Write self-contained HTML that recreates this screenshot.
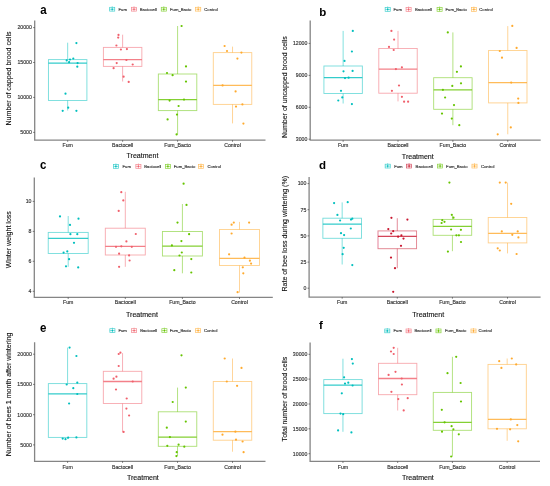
<!DOCTYPE html>
<html><head><meta charset="utf-8"><style>
html,body{margin:0;padding:0;background:#fff;}
svg{display:block;font-family:"Liberation Sans", sans-serif;}
</style></head><body>
<svg width="550" height="486" viewBox="0 0 550 486">
<defs><filter id="bl" x="0" y="0" width="1" height="1"><feGaussianBlur stdDeviation="0.45"/></filter></defs>
<rect width="550" height="486" fill="#fff"/>
<g filter="url(#bl)">
<g><g stroke="#00BFBE" fill="none" stroke-width="0.9" stroke-opacity="0.55"><line x1="67.67" y1="59.6" x2="67.67" y2="42.7"/><line x1="67.67" y1="100.5" x2="67.67" y2="110.5"/><rect x="48.44" y="59.6" width="38.47" height="40.9"/><line x1="48.44" y1="63.1" x2="86.9" y2="63.1" stroke-width="1.3" stroke-opacity="0.8"/></g><g stroke="#F0606C" fill="none" stroke-width="0.9" stroke-opacity="0.55"><line x1="122.62" y1="47.4" x2="122.62" y2="34.7"/><line x1="122.62" y1="66.4" x2="122.62" y2="81.5"/><rect x="103.39" y="47.4" width="38.47" height="19"/><line x1="103.39" y1="59.6" x2="141.86" y2="59.6" stroke-width="1.3" stroke-opacity="0.8"/></g><g stroke="#66C400" fill="none" stroke-width="0.9" stroke-opacity="0.55"><line x1="177.58" y1="74" x2="177.58" y2="26"/><line x1="177.58" y1="110.6" x2="177.58" y2="134.5"/><rect x="158.34" y="74" width="38.47" height="36.6"/><line x1="158.34" y1="99.6" x2="196.81" y2="99.6" stroke-width="1.3" stroke-opacity="0.8"/></g><g stroke="#FFAA2E" fill="none" stroke-width="0.9" stroke-opacity="0.55"><line x1="232.53" y1="52.6" x2="232.53" y2="46.6"/><line x1="232.53" y1="104.4" x2="232.53" y2="123.4"/><rect x="213.3" y="52.6" width="38.47" height="51.8"/><line x1="213.3" y1="85.4" x2="251.76" y2="85.4" stroke-width="1.3" stroke-opacity="0.8"/></g><g fill="#00BFBE"><circle cx="76.4" cy="43.1" r="1.1"/><circle cx="73.3" cy="58.5" r="1.1"/><circle cx="70" cy="59.5" r="1.1"/><circle cx="69.1" cy="62.2" r="1.1"/><circle cx="66.7" cy="60.4" r="1.1"/><circle cx="77.6" cy="63.1" r="1.1"/><circle cx="77.3" cy="66.7" r="1.1"/><circle cx="65.5" cy="93.7" r="1.1"/><circle cx="68.2" cy="107.7" r="1.1"/><circle cx="62.7" cy="110.8" r="1.1"/><circle cx="76.4" cy="110.8" r="1.1"/></g><g fill="#F0606C"><circle cx="118.5" cy="34.9" r="1.1"/><circle cx="118.2" cy="37.6" r="1.1"/><circle cx="116.4" cy="45.5" r="1.1"/><circle cx="120.9" cy="49.5" r="1.1"/><circle cx="126.9" cy="49.1" r="1.1"/><circle cx="126.4" cy="60" r="1.1"/><circle cx="116.7" cy="63.1" r="1.1"/><circle cx="132.7" cy="64.5" r="1.1"/><circle cx="113.6" cy="68.2" r="1.1"/><circle cx="123.6" cy="76.7" r="1.1"/><circle cx="128.7" cy="81.9" r="1.1"/></g><g fill="#66C400"><circle cx="181.6" cy="26" r="1.1"/><circle cx="186" cy="66.4" r="1.1"/><circle cx="167" cy="73" r="1.1"/><circle cx="172.6" cy="75.2" r="1.1"/><circle cx="186" cy="81.6" r="1.1"/><circle cx="169.6" cy="100.6" r="1.1"/><circle cx="184" cy="99.6" r="1.1"/><circle cx="178.6" cy="106" r="1.1"/><circle cx="177" cy="114.6" r="1.1"/><circle cx="167.6" cy="119.4" r="1.1"/><circle cx="176.6" cy="134.4" r="1.1"/></g><g fill="#FFAA2E"><circle cx="224.6" cy="46" r="1.1"/><circle cx="227" cy="51" r="1.1"/><circle cx="241.4" cy="52.6" r="1.1"/><circle cx="237.4" cy="58.6" r="1.1"/><circle cx="222.6" cy="85.4" r="1.1"/><circle cx="235.6" cy="91.4" r="1.1"/><circle cx="236" cy="106.6" r="1.1"/><circle cx="242.4" cy="104.4" r="1.1"/><circle cx="243.4" cy="123.6" r="1.1"/></g><path d="M34.7 20.4V140.2H265.5" fill="none" stroke="#858585" stroke-width="1.3"/><path d="M33.1 27.6H34.7M33.1 62.5H34.7M33.1 97.4H34.7M33.1 132.4H34.7M67.67 140.2V141.8M122.62 140.2V141.8M177.58 140.2V141.8M232.53 140.2V141.8" stroke="#333" stroke-width="0.6"/><g font-size="5.2" fill="#333" stroke="#333" stroke-width="0.15" text-anchor="end"><text x="31.9" y="29.4">20000</text><text x="31.9" y="64.3">15000</text><text x="31.9" y="99.2">10000</text><text x="31.9" y="134.2">5000</text></g><g font-size="5.2" fill="#333" stroke="#333" stroke-width="0.15" text-anchor="middle"><text x="67.67" y="147.2">Fum</text><text x="122.62" y="147.2">Bactocell</text><text x="177.58" y="147.2">Fum_Bacto</text><text x="232.53" y="147.2">Control</text></g><text font-size="7.05" fill="#111" stroke="#111" stroke-width="0.12" text-anchor="middle" transform="translate(11.1 78.5) rotate(-90)">Number of capped brood cells</text><text font-size="7.05" fill="#111" stroke="#111" stroke-width="0.12" text-anchor="middle" x="142.5" y="158.2">Treatment</text><text font-size="11.5" font-weight="bold" fill="#000" transform="translate(40.3 13.8) scale(1 1.13)">a</text><g stroke="#00BFBE" fill="none" stroke-width="0.7" opacity="0.75"><rect x="109.65" y="7.3" width="5.1" height="3.8"/><line x1="112.2" y1="6.3" x2="112.2" y2="11.3"/><line x1="109.65" y1="9.2" x2="114.75" y2="9.2"/></g><circle cx="112.2" cy="9.2" r="0.8" fill="#00BFBE"/><text font-size="4.2" fill="#333" stroke="#333" stroke-width="0.15" x="118.5" y="10.7">Fum</text><g stroke="#F0606C" fill="none" stroke-width="0.7" opacity="0.75"><rect x="131.45" y="7.3" width="5.1" height="3.8"/><line x1="134" y1="6.3" x2="134" y2="11.3"/><line x1="131.45" y1="9.2" x2="136.55" y2="9.2"/></g><circle cx="134" cy="9.2" r="0.8" fill="#F0606C"/><text font-size="4.2" fill="#333" stroke="#333" stroke-width="0.15" x="139.8" y="10.7">Bactocell</text><g stroke="#66C400" fill="none" stroke-width="0.7" opacity="0.75"><rect x="161.25" y="7.3" width="5.1" height="3.8"/><line x1="163.8" y1="6.3" x2="163.8" y2="11.3"/><line x1="161.25" y1="9.2" x2="166.35" y2="9.2"/></g><circle cx="163.8" cy="9.2" r="0.8" fill="#66C400"/><text font-size="4.2" fill="#333" stroke="#333" stroke-width="0.15" x="170" y="10.7">Fum_Bacto</text><g stroke="#FFAA2E" fill="none" stroke-width="0.7" opacity="0.75"><rect x="195.65" y="7.3" width="5.1" height="3.8"/><line x1="198.2" y1="6.3" x2="198.2" y2="11.3"/><line x1="195.65" y1="9.2" x2="200.75" y2="9.2"/></g><circle cx="198.2" cy="9.2" r="0.8" fill="#FFAA2E"/><text font-size="4.2" fill="#333" stroke="#333" stroke-width="0.15" x="204.3" y="10.7">Control</text></g>
<g><g stroke="#00BFBE" fill="none" stroke-width="0.9" stroke-opacity="0.55"><line x1="343.13" y1="66" x2="343.13" y2="30.9"/><line x1="343.13" y1="93.5" x2="343.13" y2="103.5"/><rect x="323.92" y="66" width="38.42" height="27.5"/><line x1="323.92" y1="77.7" x2="362.34" y2="77.7" stroke-width="1.3" stroke-opacity="0.8"/></g><g stroke="#F0606C" fill="none" stroke-width="0.9" stroke-opacity="0.55"><line x1="398.01" y1="48.5" x2="398.01" y2="30.9"/><line x1="398.01" y1="93.2" x2="398.01" y2="101.4"/><rect x="378.8" y="48.5" width="38.42" height="44.7"/><line x1="378.8" y1="69.1" x2="417.22" y2="69.1" stroke-width="1.3" stroke-opacity="0.8"/></g><g stroke="#66C400" fill="none" stroke-width="0.9" stroke-opacity="0.55"><line x1="452.89" y1="77.7" x2="452.89" y2="32.4"/><line x1="452.89" y1="109.3" x2="452.89" y2="125.2"/><rect x="433.68" y="77.7" width="38.42" height="31.6"/><line x1="433.68" y1="89.8" x2="472.1" y2="89.8" stroke-width="1.3" stroke-opacity="0.8"/></g><g stroke="#FFAA2E" fill="none" stroke-width="0.9" stroke-opacity="0.55"><line x1="507.77" y1="50.5" x2="507.77" y2="26.1"/><line x1="507.77" y1="102.9" x2="507.77" y2="134.3"/><rect x="488.56" y="50.5" width="38.42" height="52.4"/><line x1="488.56" y1="82.6" x2="526.98" y2="82.6" stroke-width="1.3" stroke-opacity="0.8"/></g><g fill="#00BFBE"><circle cx="352.8" cy="30.9" r="1.1"/><circle cx="351.9" cy="51.5" r="1.1"/><circle cx="344.5" cy="60.9" r="1.1"/><circle cx="343.5" cy="71.3" r="1.1"/><circle cx="352.6" cy="70.9" r="1.1"/><circle cx="345" cy="78.1" r="1.1"/><circle cx="348.6" cy="77.7" r="1.1"/><circle cx="341" cy="90.8" r="1.1"/><circle cx="342.3" cy="97.4" r="1.1"/><circle cx="338.3" cy="100.5" r="1.1"/><circle cx="351.9" cy="104.1" r="1.1"/></g><g fill="#F0606C"><circle cx="391.4" cy="30.9" r="1.1"/><circle cx="394.1" cy="39.6" r="1.1"/><circle cx="389" cy="46.9" r="1.1"/><circle cx="393.7" cy="50" r="1.1"/><circle cx="401.9" cy="67.3" r="1.1"/><circle cx="395.9" cy="69.1" r="1.1"/><circle cx="399" cy="85.5" r="1.1"/><circle cx="391.9" cy="90.8" r="1.1"/><circle cx="401.9" cy="96.8" r="1.1"/><circle cx="404.1" cy="101.7" r="1.1"/><circle cx="408.1" cy="101.7" r="1.1"/></g><g fill="#66C400"><circle cx="447.8" cy="32.4" r="1.1"/><circle cx="460.9" cy="66.4" r="1.1"/><circle cx="456.9" cy="71.8" r="1.1"/><circle cx="461" cy="83.3" r="1.1"/><circle cx="452.3" cy="85.9" r="1.1"/><circle cx="442.9" cy="89.8" r="1.1"/><circle cx="445.1" cy="97.5" r="1.1"/><circle cx="454" cy="105.1" r="1.1"/><circle cx="442" cy="113.6" r="1.1"/><circle cx="451.8" cy="118.6" r="1.1"/><circle cx="459.3" cy="125.2" r="1.1"/></g><g fill="#FFAA2E"><circle cx="512.3" cy="25.9" r="1.1"/><circle cx="516.6" cy="47.9" r="1.1"/><circle cx="499.8" cy="51" r="1.1"/><circle cx="502" cy="57.7" r="1.1"/><circle cx="511.2" cy="82.6" r="1.1"/><circle cx="518.2" cy="98.6" r="1.1"/><circle cx="518.4" cy="102.9" r="1.1"/><circle cx="510.8" cy="127.4" r="1.1"/><circle cx="497.7" cy="134.3" r="1.1"/></g><path d="M310.2 20.5V140.2H540.7" fill="none" stroke="#858585" stroke-width="1.3"/><path d="M308.6 43.4H310.2M308.6 75.4H310.2M308.6 107.3H310.2M308.6 139.2H310.2M343.13 140.2V141.8M398.01 140.2V141.8M452.89 140.2V141.8M507.77 140.2V141.8" stroke="#333" stroke-width="0.6"/><g font-size="5.2" fill="#333" stroke="#333" stroke-width="0.15" text-anchor="end"><text x="307.4" y="45.2">12000</text><text x="307.4" y="77.2">9000</text><text x="307.4" y="109.1">6000</text><text x="307.4" y="141">3000</text></g><g font-size="5.2" fill="#333" stroke="#333" stroke-width="0.15" text-anchor="middle"><text x="343.13" y="147.2">Fum</text><text x="398.01" y="147.2">Bactocell</text><text x="452.89" y="147.2">Fum_Bacto</text><text x="507.77" y="147.2">Control</text></g><text font-size="7.05" fill="#111" stroke="#111" stroke-width="0.12" text-anchor="middle" transform="translate(286.5 87.2) rotate(-90)">Number of uncapped brood cells</text><text font-size="7.05" fill="#111" stroke="#111" stroke-width="0.12" text-anchor="middle" x="417.8" y="159.2">Treatment</text><text font-size="11.5" font-weight="bold" fill="#000" x="319.2" y="15.7">b</text><g stroke="#00BFBE" fill="none" stroke-width="0.7" opacity="0.75"><rect x="385.15" y="7.5" width="5.1" height="3.8"/><line x1="387.7" y1="6.5" x2="387.7" y2="11.5"/><line x1="385.15" y1="9.4" x2="390.25" y2="9.4"/></g><circle cx="387.7" cy="9.4" r="0.8" fill="#00BFBE"/><text font-size="4.2" fill="#333" stroke="#333" stroke-width="0.15" x="393.5" y="10.9">Fum</text><g stroke="#F0606C" fill="none" stroke-width="0.7" opacity="0.75"><rect x="406.05" y="7.5" width="5.1" height="3.8"/><line x1="408.6" y1="6.5" x2="408.6" y2="11.5"/><line x1="406.05" y1="9.4" x2="411.15" y2="9.4"/></g><circle cx="408.6" cy="9.4" r="0.8" fill="#F0606C"/><text font-size="4.2" fill="#333" stroke="#333" stroke-width="0.15" x="414.9" y="10.9">Bactocell</text><g stroke="#66C400" fill="none" stroke-width="0.7" opacity="0.75"><rect x="437.05" y="7.5" width="5.1" height="3.8"/><line x1="439.6" y1="6.5" x2="439.6" y2="11.5"/><line x1="437.05" y1="9.4" x2="442.15" y2="9.4"/></g><circle cx="439.6" cy="9.4" r="0.8" fill="#66C400"/><text font-size="4.2" fill="#333" stroke="#333" stroke-width="0.15" x="445.5" y="10.9">Fum_Bacto</text><g stroke="#FFAA2E" fill="none" stroke-width="0.7" opacity="0.75"><rect x="471.35" y="7.5" width="5.1" height="3.8"/><line x1="473.9" y1="6.5" x2="473.9" y2="11.5"/><line x1="471.35" y1="9.4" x2="476.45" y2="9.4"/></g><circle cx="473.9" cy="9.4" r="0.8" fill="#FFAA2E"/><text font-size="4.2" fill="#333" stroke="#333" stroke-width="0.15" x="479.3" y="10.9">Control</text></g>
<g><g stroke="#00BFBE" fill="none" stroke-width="0.9" stroke-opacity="0.55"><line x1="68.2" y1="232.4" x2="68.2" y2="216"/><line x1="68.2" y1="253.5" x2="68.2" y2="266.8"/><rect x="48.22" y="232.4" width="39.97" height="21.1"/><line x1="48.22" y1="238.4" x2="88.19" y2="238.4" stroke-width="1.3" stroke-opacity="0.8"/></g><g stroke="#F0606C" fill="none" stroke-width="0.9" stroke-opacity="0.55"><line x1="125.3" y1="228.2" x2="125.3" y2="191.8"/><line x1="125.3" y1="255" x2="125.3" y2="266.8"/><rect x="105.31" y="228.2" width="39.97" height="26.8"/><line x1="105.31" y1="246.3" x2="145.28" y2="246.3" stroke-width="1.3" stroke-opacity="0.8"/></g><g stroke="#66C400" fill="none" stroke-width="0.9" stroke-opacity="0.55"><line x1="182.4" y1="231.5" x2="182.4" y2="204"/><line x1="182.4" y1="256" x2="182.4" y2="273.3"/><rect x="162.42" y="231.5" width="39.97" height="24.5"/><line x1="162.42" y1="246.1" x2="202.38" y2="246.1" stroke-width="1.3" stroke-opacity="0.8"/></g><g stroke="#FFAA2E" fill="none" stroke-width="0.9" stroke-opacity="0.55"><line x1="239.5" y1="229.5" x2="239.5" y2="221.9"/><line x1="239.5" y1="265.5" x2="239.5" y2="292.6"/><rect x="219.51" y="229.5" width="39.97" height="36"/><line x1="219.51" y1="258.4" x2="259.49" y2="258.4" stroke-width="1.3" stroke-opacity="0.8"/></g><g fill="#00BFBE"><circle cx="60" cy="216.4" r="1.1"/><circle cx="78.5" cy="218.7" r="1.1"/><circle cx="70" cy="224.9" r="1.1"/><circle cx="70.4" cy="234.2" r="1.1"/><circle cx="77.3" cy="234.2" r="1.1"/><circle cx="74" cy="242.8" r="1.1"/><circle cx="63.6" cy="252.6" r="1.1"/><circle cx="67.3" cy="251.4" r="1.1"/><circle cx="69.1" cy="259.2" r="1.1"/><circle cx="66" cy="266.3" r="1.1"/><circle cx="78.2" cy="267.4" r="1.1"/></g><g fill="#F0606C"><circle cx="121.3" cy="192.2" r="1.1"/><circle cx="123.3" cy="200.4" r="1.1"/><circle cx="118.7" cy="210.9" r="1.1"/><circle cx="135.8" cy="234" r="1.1"/><circle cx="126.4" cy="241.4" r="1.1"/><circle cx="116" cy="246.8" r="1.1"/><circle cx="121.3" cy="246.3" r="1.1"/><circle cx="131.8" cy="246.8" r="1.1"/><circle cx="119.1" cy="253.7" r="1.1"/><circle cx="129.1" cy="255.4" r="1.1"/><circle cx="129.6" cy="260.5" r="1.1"/><circle cx="119.1" cy="266.8" r="1.1"/></g><g fill="#66C400"><circle cx="183.6" cy="183.7" r="1.1"/><circle cx="186.5" cy="204.9" r="1.1"/><circle cx="177.5" cy="222.6" r="1.1"/><circle cx="189.1" cy="234.2" r="1.1"/><circle cx="181.4" cy="241.1" r="1.1"/><circle cx="171.9" cy="245.4" r="1.1"/><circle cx="181.8" cy="252.5" r="1.1"/><circle cx="179.5" cy="255.5" r="1.1"/><circle cx="191.3" cy="259.1" r="1.1"/><circle cx="174.3" cy="270.2" r="1.1"/><circle cx="191.3" cy="272.5" r="1.1"/></g><g fill="#FFAA2E"><circle cx="233.8" cy="222.6" r="1.1"/><circle cx="231.6" cy="224.7" r="1.1"/><circle cx="249.1" cy="222.6" r="1.1"/><circle cx="231.6" cy="233.5" r="1.1"/><circle cx="229.1" cy="254.3" r="1.1"/><circle cx="244.5" cy="257.7" r="1.1"/><circle cx="249.9" cy="260.7" r="1.1"/><circle cx="251.1" cy="263.6" r="1.1"/><circle cx="242.8" cy="267.3" r="1.1"/><circle cx="243.3" cy="273.3" r="1.1"/><circle cx="237.6" cy="292.2" r="1.1"/></g><path d="M34.3 177.6V297.4H272.8" fill="none" stroke="#858585" stroke-width="1.3"/><path d="M32.7 201.4H34.3M32.7 231.4H34.3M32.7 261.3H34.3M32.7 291.3H34.3M68.2 297.4V299M125.3 297.4V299M182.4 297.4V299M239.5 297.4V299" stroke="#333" stroke-width="0.6"/><g font-size="5.2" fill="#333" stroke="#333" stroke-width="0.15" text-anchor="end"><text x="31.5" y="203.2">10</text><text x="31.5" y="233.2">8</text><text x="31.5" y="263.1">6</text><text x="31.5" y="293.1">4</text></g><g font-size="5.2" fill="#333" stroke="#333" stroke-width="0.15" text-anchor="middle"><text x="68.2" y="304.3">Fum</text><text x="125.3" y="304.3">Bactocell</text><text x="182.4" y="304.3">Fum_Bacto</text><text x="239.5" y="304.3">Control</text></g><text font-size="7.05" fill="#111" stroke="#111" stroke-width="0.12" text-anchor="middle" transform="translate(11.3 239.7) rotate(-90)">Winter weight loss</text><text font-size="7.05" fill="#111" stroke="#111" stroke-width="0.12" text-anchor="middle" x="142" y="316.8">Treatment</text><text font-size="11.5" font-weight="bold" fill="#000" transform="translate(40 168.8) scale(1 1.13)">c</text><g stroke="#00BFBE" fill="none" stroke-width="0.7" opacity="0.75"><rect x="113.35" y="164.5" width="5.1" height="3.8"/><line x1="115.9" y1="163.5" x2="115.9" y2="168.5"/><line x1="113.35" y1="166.4" x2="118.45" y2="166.4"/></g><circle cx="115.9" cy="166.4" r="0.8" fill="#00BFBE"/><text font-size="4.2" fill="#333" stroke="#333" stroke-width="0.15" x="122.5" y="167.9">Fum</text><g stroke="#F0606C" fill="none" stroke-width="0.7" opacity="0.75"><rect x="135.85" y="164.5" width="5.1" height="3.8"/><line x1="138.4" y1="163.5" x2="138.4" y2="168.5"/><line x1="135.85" y1="166.4" x2="140.95" y2="166.4"/></g><circle cx="138.4" cy="166.4" r="0.8" fill="#F0606C"/><text font-size="4.2" fill="#333" stroke="#333" stroke-width="0.15" x="144.3" y="167.9">Bactocell</text><g stroke="#66C400" fill="none" stroke-width="0.7" opacity="0.75"><rect x="165.35" y="164.5" width="5.1" height="3.8"/><line x1="167.9" y1="163.5" x2="167.9" y2="168.5"/><line x1="165.35" y1="166.4" x2="170.45" y2="166.4"/></g><circle cx="167.9" cy="166.4" r="0.8" fill="#66C400"/><text font-size="4.2" fill="#333" stroke="#333" stroke-width="0.15" x="173.8" y="167.9">Fum_Bacto</text><g stroke="#FFAA2E" fill="none" stroke-width="0.7" opacity="0.75"><rect x="198.45" y="164.5" width="5.1" height="3.8"/><line x1="201" y1="163.5" x2="201" y2="168.5"/><line x1="198.45" y1="166.4" x2="203.55" y2="166.4"/></g><circle cx="201" cy="166.4" r="0.8" fill="#FFAA2E"/><text font-size="4.2" fill="#333" stroke="#333" stroke-width="0.15" x="207.5" y="167.9">Control</text></g>
<g><g stroke="#00BFBE" fill="none" stroke-width="0.9" stroke-opacity="0.55"><line x1="342.17" y1="218.2" x2="342.17" y2="202.4"/><line x1="342.17" y1="238.3" x2="342.17" y2="264.5"/><rect x="322.88" y="218.2" width="38.58" height="20.1"/><line x1="322.88" y1="224.2" x2="361.46" y2="224.2" stroke-width="1.3" stroke-opacity="0.8"/></g><g stroke="#C8182E" fill="none" stroke-width="0.9" stroke-opacity="0.55"><line x1="397.29" y1="230.9" x2="397.29" y2="218.2"/><line x1="397.29" y1="248.7" x2="397.29" y2="268.2"/><rect x="378" y="230.9" width="38.58" height="17.8"/><line x1="378" y1="236.4" x2="416.58" y2="236.4" stroke-width="1.3" stroke-opacity="0.8"/></g><g stroke="#66C400" fill="none" stroke-width="0.9" stroke-opacity="0.55"><line x1="452.41" y1="219.4" x2="452.41" y2="215.5"/><line x1="452.41" y1="235.3" x2="452.41" y2="251.2"/><rect x="433.12" y="219.4" width="38.58" height="15.9"/><line x1="433.12" y1="226.4" x2="471.7" y2="226.4" stroke-width="1.3" stroke-opacity="0.8"/></g><g stroke="#FFAA2E" fill="none" stroke-width="0.9" stroke-opacity="0.55"><line x1="507.53" y1="217.5" x2="507.53" y2="182.6"/><line x1="507.53" y1="242.9" x2="507.53" y2="253.4"/><rect x="488.24" y="217.5" width="38.58" height="25.4"/><line x1="488.24" y1="233.3" x2="526.82" y2="233.3" stroke-width="1.3" stroke-opacity="0.8"/></g><g fill="#00BFBE"><circle cx="334.1" cy="203.1" r="1.1"/><circle cx="347.7" cy="202.2" r="1.1"/><circle cx="337.4" cy="214.9" r="1.1"/><circle cx="340.1" cy="220.5" r="1.1"/><circle cx="351" cy="219.6" r="1.1"/><circle cx="352.3" cy="218.7" r="1.1"/><circle cx="350.8" cy="228.5" r="1.1"/><circle cx="341" cy="233.2" r="1.1"/><circle cx="344.1" cy="235.1" r="1.1"/><circle cx="343.7" cy="247.8" r="1.1"/><circle cx="342.6" cy="254.2" r="1.1"/><circle cx="352.3" cy="265.1" r="1.1"/></g><g fill="#C8182E"><circle cx="391.4" cy="217.8" r="1.1"/><circle cx="407.4" cy="219.6" r="1.1"/><circle cx="388.3" cy="229.1" r="1.1"/><circle cx="393.2" cy="231.2" r="1.1"/><circle cx="391.2" cy="233.5" r="1.1"/><circle cx="401.4" cy="235.3" r="1.1"/><circle cx="398.1" cy="236.7" r="1.1"/><circle cx="403.5" cy="238.6" r="1.1"/><circle cx="401" cy="245.8" r="1.1"/><circle cx="391" cy="257.6" r="1.1"/><circle cx="395" cy="268.2" r="1.1"/><circle cx="393.2" cy="291.8" r="1.1"/></g><g fill="#66C400"><circle cx="449.4" cy="182.6" r="1.1"/><circle cx="451.8" cy="214.8" r="1.1"/><circle cx="453.5" cy="217.7" r="1.1"/><circle cx="442.3" cy="220.2" r="1.1"/><circle cx="444.5" cy="221.8" r="1.1"/><circle cx="441.6" cy="223" r="1.1"/><circle cx="451.1" cy="229.5" r="1.1"/><circle cx="460.9" cy="229.8" r="1.1"/><circle cx="456.4" cy="235.3" r="1.1"/><circle cx="458.9" cy="235.3" r="1.1"/><circle cx="461" cy="242" r="1.1"/><circle cx="447.9" cy="251.6" r="1.1"/></g><g fill="#FFAA2E"><circle cx="499.8" cy="182.6" r="1.1"/><circle cx="505.7" cy="182.6" r="1.1"/><circle cx="511.2" cy="203.8" r="1.1"/><circle cx="501.8" cy="231.4" r="1.1"/><circle cx="517.7" cy="231.4" r="1.1"/><circle cx="512.3" cy="234.8" r="1.1"/><circle cx="518.4" cy="237.4" r="1.1"/><circle cx="497.7" cy="248.3" r="1.1"/><circle cx="499.8" cy="250.5" r="1.1"/><circle cx="516.6" cy="254" r="1.1"/></g><path d="M309.1 177.1V297.1H540.6" fill="none" stroke="#858585" stroke-width="1.3"/><path d="M307.5 183.6H309.1M307.5 209.7H309.1M307.5 235.9H309.1M307.5 262.1H309.1M307.5 288.2H309.1M342.17 297.1V298.7M397.29 297.1V298.7M452.41 297.1V298.7M507.53 297.1V298.7" stroke="#333" stroke-width="0.6"/><g font-size="5.2" fill="#333" stroke="#333" stroke-width="0.15" text-anchor="end"><text x="306.3" y="185.4">100</text><text x="306.3" y="211.5">75</text><text x="306.3" y="237.7">50</text><text x="306.3" y="263.9">25</text><text x="306.3" y="290">0</text></g><g font-size="5.2" fill="#333" stroke="#333" stroke-width="0.15" text-anchor="middle"><text x="342.17" y="304.4">Fum</text><text x="397.29" y="304.4">Bactocell</text><text x="452.41" y="304.4">Fum_Bacto</text><text x="507.53" y="304.4">Control</text></g><text font-size="7.05" fill="#111" stroke="#111" stroke-width="0.12" text-anchor="middle" transform="translate(287 233.7) rotate(-90)">Rate of bee loss during wintering (%)</text><text font-size="7.05" fill="#111" stroke="#111" stroke-width="0.12" text-anchor="middle" x="428.2" y="317.2">Treatment</text><text font-size="11.5" font-weight="bold" fill="#000" x="319.1" y="168.6">d</text><g stroke="#00BFBE" fill="none" stroke-width="0.7" opacity="0.75"><rect x="385.15" y="164.2" width="5.1" height="3.8"/><line x1="387.7" y1="163.2" x2="387.7" y2="168.2"/><line x1="385.15" y1="166.1" x2="390.25" y2="166.1"/></g><circle cx="387.7" cy="166.1" r="0.8" fill="#00BFBE"/><text font-size="4.2" fill="#333" stroke="#333" stroke-width="0.15" x="394.2" y="167.6">Fum</text><g stroke="#C8182E" fill="none" stroke-width="0.7" opacity="0.75"><rect x="406.55" y="164.2" width="5.1" height="3.8"/><line x1="409.1" y1="163.2" x2="409.1" y2="168.2"/><line x1="406.55" y1="166.1" x2="411.65" y2="166.1"/></g><circle cx="409.1" cy="166.1" r="0.8" fill="#C8182E"/><text font-size="4.2" fill="#333" stroke="#333" stroke-width="0.15" x="415.6" y="167.6">Bactocell</text><g stroke="#66C400" fill="none" stroke-width="0.7" opacity="0.75"><rect x="437.55" y="164.2" width="5.1" height="3.8"/><line x1="440.1" y1="163.2" x2="440.1" y2="168.2"/><line x1="437.55" y1="166.1" x2="442.65" y2="166.1"/></g><circle cx="440.1" cy="166.1" r="0.8" fill="#66C400"/><text font-size="4.2" fill="#333" stroke="#333" stroke-width="0.15" x="446.1" y="167.6">Fum_Bacto</text><g stroke="#FFAA2E" fill="none" stroke-width="0.7" opacity="0.75"><rect x="471.95" y="164.2" width="5.1" height="3.8"/><line x1="474.5" y1="163.2" x2="474.5" y2="168.2"/><line x1="471.95" y1="166.1" x2="477.05" y2="166.1"/></g><circle cx="474.5" cy="166.1" r="0.8" fill="#FFAA2E"/><text font-size="4.2" fill="#333" stroke="#333" stroke-width="0.15" x="481" y="167.6">Control</text></g>
<g><g stroke="#00BFBE" fill="none" stroke-width="0.9" stroke-opacity="0.55"><line x1="67.59" y1="383.6" x2="67.59" y2="347.6"/><line x1="67.59" y1="437.4" x2="67.59" y2="439"/><rect x="48.34" y="383.6" width="38.48" height="53.8"/><line x1="48.34" y1="393.8" x2="86.83" y2="393.8" stroke-width="1.3" stroke-opacity="0.8"/></g><g stroke="#F0606C" fill="none" stroke-width="0.9" stroke-opacity="0.55"><line x1="122.56" y1="371.3" x2="122.56" y2="353.1"/><line x1="122.56" y1="403.5" x2="122.56" y2="432.3"/><rect x="103.32" y="371.3" width="38.48" height="32.2"/><line x1="103.32" y1="381.5" x2="141.8" y2="381.5" stroke-width="1.3" stroke-opacity="0.8"/></g><g stroke="#66C400" fill="none" stroke-width="0.9" stroke-opacity="0.55"><line x1="177.54" y1="411.8" x2="177.54" y2="387.6"/><line x1="177.54" y1="446.3" x2="177.54" y2="456.1"/><rect x="158.3" y="411.8" width="38.48" height="34.5"/><line x1="158.3" y1="437.1" x2="196.78" y2="437.1" stroke-width="1.3" stroke-opacity="0.8"/></g><g stroke="#FFAA2E" fill="none" stroke-width="0.9" stroke-opacity="0.55"><line x1="232.51" y1="381.5" x2="232.51" y2="358.5"/><line x1="232.51" y1="440.2" x2="232.51" y2="451.7"/><rect x="213.27" y="381.5" width="38.48" height="58.7"/><line x1="213.27" y1="431.7" x2="251.76" y2="431.7" stroke-width="1.3" stroke-opacity="0.8"/></g><g fill="#00BFBE"><circle cx="69.6" cy="347.6" r="1.1"/><circle cx="76.4" cy="356" r="1.1"/><circle cx="77.3" cy="382.7" r="1.1"/><circle cx="66.7" cy="384.5" r="1.1"/><circle cx="73.3" cy="388.2" r="1.1"/><circle cx="77.3" cy="394" r="1.1"/><circle cx="69.1" cy="403.5" r="1.1"/><circle cx="62.7" cy="438.6" r="1.1"/><circle cx="65.5" cy="439.2" r="1.1"/><circle cx="68.2" cy="437.7" r="1.1"/><circle cx="76.4" cy="437.4" r="1.1"/></g><g fill="#F0606C"><circle cx="118.7" cy="354" r="1.1"/><circle cx="120.4" cy="352.7" r="1.1"/><circle cx="118.7" cy="366" r="1.1"/><circle cx="116.4" cy="376.7" r="1.1"/><circle cx="113.6" cy="378.7" r="1.1"/><circle cx="132.7" cy="381.5" r="1.1"/><circle cx="116" cy="389.5" r="1.1"/><circle cx="126.7" cy="398.5" r="1.1"/><circle cx="126.4" cy="408.6" r="1.1"/><circle cx="129.1" cy="415.5" r="1.1"/><circle cx="123.6" cy="431.9" r="1.1"/></g><g fill="#66C400"><circle cx="181.5" cy="355.3" r="1.1"/><circle cx="185.8" cy="387.6" r="1.1"/><circle cx="172.7" cy="402" r="1.1"/><circle cx="185.8" cy="421.6" r="1.1"/><circle cx="166.8" cy="427.7" r="1.1"/><circle cx="169.9" cy="437.1" r="1.1"/><circle cx="167.3" cy="445.8" r="1.1"/><circle cx="178.6" cy="444.7" r="1.1"/><circle cx="184.3" cy="446.7" r="1.1"/><circle cx="176.7" cy="452.2" r="1.1"/><circle cx="176.4" cy="456.1" r="1.1"/></g><g fill="#FFAA2E"><circle cx="224.7" cy="358.5" r="1.1"/><circle cx="241.5" cy="367.9" r="1.1"/><circle cx="226.8" cy="381.5" r="1.1"/><circle cx="237.1" cy="385.8" r="1.1"/><circle cx="222.5" cy="434.7" r="1.1"/><circle cx="235.4" cy="431.7" r="1.1"/><circle cx="236" cy="439.7" r="1.1"/><circle cx="242.6" cy="441.5" r="1.1"/><circle cx="243.6" cy="452.2" r="1.1"/></g><path d="M34.6 342.2V461.3H265.5" fill="none" stroke="#858585" stroke-width="1.3"/><path d="M33 354.2H34.6M33 384.4H34.6M33 414.7H34.6M33 444.9H34.6M67.59 461.3V462.9M122.56 461.3V462.9M177.54 461.3V462.9M232.51 461.3V462.9" stroke="#333" stroke-width="0.6"/><g font-size="5.2" fill="#333" stroke="#333" stroke-width="0.15" text-anchor="end"><text x="31.8" y="356">20000</text><text x="31.8" y="386.2">15000</text><text x="31.8" y="416.5">10000</text><text x="31.8" y="446.7">5000</text></g><g font-size="5.2" fill="#333" stroke="#333" stroke-width="0.15" text-anchor="middle"><text x="67.59" y="468.7">Fum</text><text x="122.56" y="468.7">Bactocell</text><text x="177.54" y="468.7">Fum_Bacto</text><text x="232.51" y="468.7">Control</text></g><text font-size="7.05" fill="#111" stroke="#111" stroke-width="0.12" text-anchor="middle" transform="translate(10.8 394.4) rotate(-90)">Number of bees 1 month after wintering</text><text font-size="7.05" fill="#111" stroke="#111" stroke-width="0.12" text-anchor="middle" x="142.9" y="480">Treatment</text><text font-size="11.5" font-weight="bold" fill="#000" transform="translate(40 331.8) scale(1 1.13)">e</text><g stroke="#00BFBE" fill="none" stroke-width="0.7" opacity="0.75"><rect x="109.85" y="328.7" width="5.1" height="3.8"/><line x1="112.4" y1="327.7" x2="112.4" y2="332.7"/><line x1="109.85" y1="330.6" x2="114.95" y2="330.6"/></g><circle cx="112.4" cy="330.6" r="0.8" fill="#00BFBE"/><text font-size="4.2" fill="#333" stroke="#333" stroke-width="0.15" x="118.4" y="332.1">Fum</text><g stroke="#F0606C" fill="none" stroke-width="0.7" opacity="0.75"><rect x="131.55" y="328.7" width="5.1" height="3.8"/><line x1="134.1" y1="327.7" x2="134.1" y2="332.7"/><line x1="131.55" y1="330.6" x2="136.65" y2="330.6"/></g><circle cx="134.1" cy="330.6" r="0.8" fill="#F0606C"/><text font-size="4.2" fill="#333" stroke="#333" stroke-width="0.15" x="140.2" y="332.1">Bactocell</text><g stroke="#66C400" fill="none" stroke-width="0.7" opacity="0.75"><rect x="161.85" y="328.7" width="5.1" height="3.8"/><line x1="164.4" y1="327.7" x2="164.4" y2="332.7"/><line x1="161.85" y1="330.6" x2="166.95" y2="330.6"/></g><circle cx="164.4" cy="330.6" r="0.8" fill="#66C400"/><text font-size="4.2" fill="#333" stroke="#333" stroke-width="0.15" x="169.7" y="332.1">Fum_Bacto</text><g stroke="#FFAA2E" fill="none" stroke-width="0.7" opacity="0.75"><rect x="195.55" y="328.7" width="5.1" height="3.8"/><line x1="198.1" y1="327.7" x2="198.1" y2="332.7"/><line x1="195.55" y1="330.6" x2="200.65" y2="330.6"/></g><circle cx="198.1" cy="330.6" r="0.8" fill="#FFAA2E"/><text font-size="4.2" fill="#333" stroke="#333" stroke-width="0.15" x="204" y="332.1">Control</text></g>
<g><g stroke="#00BFBE" fill="none" stroke-width="0.9" stroke-opacity="0.55"><line x1="342.94" y1="379.6" x2="342.94" y2="358.7"/><line x1="342.94" y1="413.6" x2="342.94" y2="431.8"/><rect x="323.78" y="379.6" width="38.32" height="34"/><line x1="323.78" y1="385.1" x2="362.1" y2="385.1" stroke-width="1.3" stroke-opacity="0.8"/></g><g stroke="#F0606C" fill="none" stroke-width="0.9" stroke-opacity="0.55"><line x1="397.68" y1="363.3" x2="397.68" y2="347.8"/><line x1="397.68" y1="394.7" x2="397.68" y2="410.5"/><rect x="378.52" y="363.3" width="38.32" height="31.4"/><line x1="378.52" y1="378.5" x2="416.84" y2="378.5" stroke-width="1.3" stroke-opacity="0.8"/></g><g stroke="#66C400" fill="none" stroke-width="0.9" stroke-opacity="0.55"><line x1="452.42" y1="392.4" x2="452.42" y2="356.8"/><line x1="452.42" y1="430.3" x2="452.42" y2="456.5"/><rect x="433.26" y="392.4" width="38.32" height="37.9"/><line x1="433.26" y1="422.3" x2="471.58" y2="422.3" stroke-width="1.3" stroke-opacity="0.8"/></g><g stroke="#FFAA2E" fill="none" stroke-width="0.9" stroke-opacity="0.55"><line x1="507.16" y1="364.4" x2="507.16" y2="358.5"/><line x1="507.16" y1="428.8" x2="507.16" y2="440.8"/><rect x="488" y="364.4" width="38.32" height="64.4"/><line x1="488" y1="419.4" x2="526.32" y2="419.4" stroke-width="1.3" stroke-opacity="0.8"/></g><g fill="#00BFBE"><circle cx="351.9" cy="359.1" r="1.1"/><circle cx="352.8" cy="363.6" r="1.1"/><circle cx="344.1" cy="377.3" r="1.1"/><circle cx="345" cy="383.6" r="1.1"/><circle cx="348.3" cy="382.7" r="1.1"/><circle cx="352.6" cy="385.5" r="1.1"/><circle cx="341.8" cy="393.3" r="1.1"/><circle cx="340.5" cy="413.6" r="1.1"/><circle cx="343.2" cy="414.2" r="1.1"/><circle cx="338.1" cy="430.4" r="1.1"/><circle cx="351.4" cy="432.4" r="1.1"/></g><g fill="#F0606C"><circle cx="393.7" cy="347.8" r="1.1"/><circle cx="391" cy="351.5" r="1.1"/><circle cx="393.7" cy="354" r="1.1"/><circle cx="395.5" cy="371.8" r="1.1"/><circle cx="388.6" cy="374.9" r="1.1"/><circle cx="401.7" cy="378.5" r="1.1"/><circle cx="401.9" cy="384.5" r="1.1"/><circle cx="391.4" cy="391.8" r="1.1"/><circle cx="398.3" cy="399.1" r="1.1"/><circle cx="407.7" cy="398.2" r="1.1"/><circle cx="403.7" cy="410.4" r="1.1"/></g><g fill="#66C400"><circle cx="456.2" cy="356.8" r="1.1"/><circle cx="447.5" cy="373.2" r="1.1"/><circle cx="460.6" cy="383" r="1.1"/><circle cx="461" cy="401.5" r="1.1"/><circle cx="441.8" cy="409.8" r="1.1"/><circle cx="444.6" cy="422.3" r="1.1"/><circle cx="451.6" cy="426.2" r="1.1"/><circle cx="453.4" cy="429.3" r="1.1"/><circle cx="442" cy="431.7" r="1.1"/><circle cx="458.8" cy="434.3" r="1.1"/><circle cx="451.2" cy="456.5" r="1.1"/></g><g fill="#FFAA2E"><circle cx="511.8" cy="358.5" r="1.1"/><circle cx="499.2" cy="361.2" r="1.1"/><circle cx="516.2" cy="364.4" r="1.1"/><circle cx="501.4" cy="367.9" r="1.1"/><circle cx="510.8" cy="419.4" r="1.1"/><circle cx="517.3" cy="425.1" r="1.1"/><circle cx="497" cy="428.8" r="1.1"/><circle cx="510.1" cy="429.3" r="1.1"/><circle cx="518.2" cy="441.3" r="1.1"/></g><path d="M310.1 342.5V461.4H540" fill="none" stroke="#858585" stroke-width="1.3"/><path d="M308.5 354.3H310.1M308.5 379.1H310.1M308.5 404H310.1M308.5 428.8H310.1M308.5 453.7H310.1M342.94 461.4V463M397.68 461.4V463M452.42 461.4V463M507.16 461.4V463" stroke="#333" stroke-width="0.6"/><g font-size="5.2" fill="#333" stroke="#333" stroke-width="0.15" text-anchor="end"><text x="307.3" y="356.1">30000</text><text x="307.3" y="380.9">25000</text><text x="307.3" y="405.8">20000</text><text x="307.3" y="430.6">15000</text><text x="307.3" y="455.5">10000</text></g><g font-size="5.2" fill="#333" stroke="#333" stroke-width="0.15" text-anchor="middle"><text x="342.94" y="468.5">Fum</text><text x="397.68" y="468.5">Bactocell</text><text x="452.42" y="468.5">Fum_Bacto</text><text x="507.16" y="468.5">Control</text></g><text font-size="7.05" fill="#111" stroke="#111" stroke-width="0.12" text-anchor="middle" transform="translate(286.6 399.1) rotate(-90)">Total number of brood cells</text><text font-size="7.05" fill="#111" stroke="#111" stroke-width="0.12" text-anchor="middle" x="417.9" y="480.3">Treatment</text><text font-size="11.5" font-weight="bold" fill="#000" x="319.1" y="329">f</text><g stroke="#00BFBE" fill="none" stroke-width="0.7" opacity="0.75"><rect x="384.75" y="329" width="5.1" height="3.8"/><line x1="387.3" y1="328" x2="387.3" y2="333"/><line x1="384.75" y1="330.9" x2="389.85" y2="330.9"/></g><circle cx="387.3" cy="330.9" r="0.8" fill="#00BFBE"/><text font-size="4.2" fill="#333" stroke="#333" stroke-width="0.15" x="393.5" y="332.4">Fum</text><g stroke="#F0606C" fill="none" stroke-width="0.7" opacity="0.75"><rect x="406.05" y="329" width="5.1" height="3.8"/><line x1="408.6" y1="328" x2="408.6" y2="333"/><line x1="406.05" y1="330.9" x2="411.15" y2="330.9"/></g><circle cx="408.6" cy="330.9" r="0.8" fill="#F0606C"/><text font-size="4.2" fill="#333" stroke="#333" stroke-width="0.15" x="414.5" y="332.4">Bactocell</text><g stroke="#66C400" fill="none" stroke-width="0.7" opacity="0.75"><rect x="435.95" y="329" width="5.1" height="3.8"/><line x1="438.5" y1="328" x2="438.5" y2="333"/><line x1="435.95" y1="330.9" x2="441.05" y2="330.9"/></g><circle cx="438.5" cy="330.9" r="0.8" fill="#66C400"/><text font-size="4.2" fill="#333" stroke="#333" stroke-width="0.15" x="445" y="332.4">Fum_Bacto</text><g stroke="#FFAA2E" fill="none" stroke-width="0.7" opacity="0.75"><rect x="470.95" y="329" width="5.1" height="3.8"/><line x1="473.5" y1="328" x2="473.5" y2="333"/><line x1="470.95" y1="330.9" x2="476.05" y2="330.9"/></g><circle cx="473.5" cy="330.9" r="0.8" fill="#FFAA2E"/><text font-size="4.2" fill="#333" stroke="#333" stroke-width="0.15" x="478.6" y="332.4">Control</text></g>
</g>
</svg>
</body></html>
